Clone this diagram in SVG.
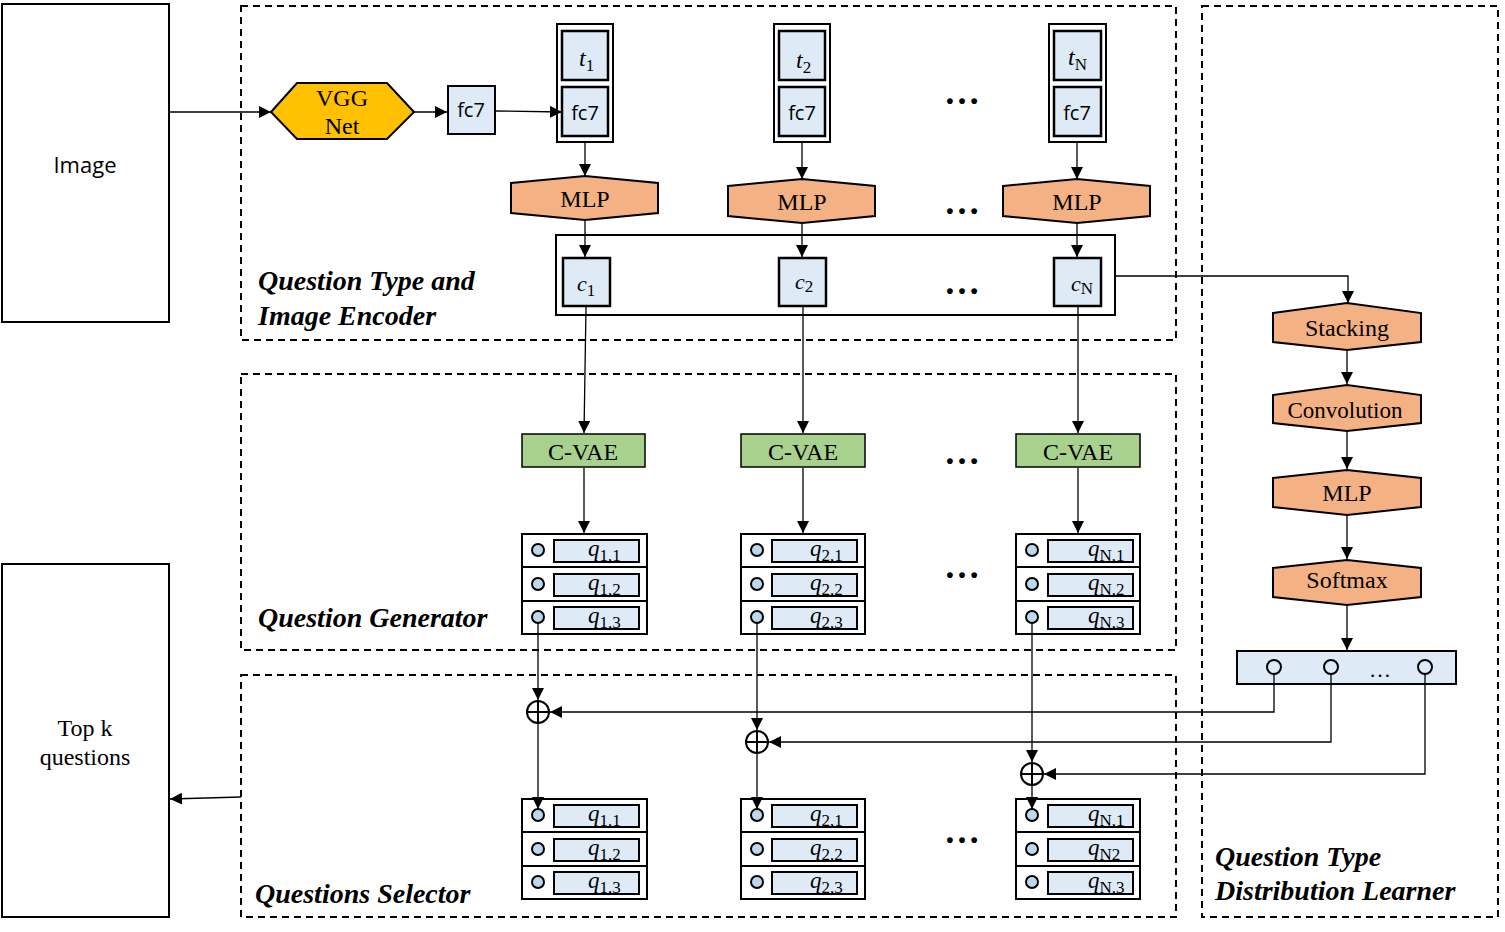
<svg xmlns="http://www.w3.org/2000/svg" width="1505" height="932" viewBox="0 0 1505 932">
<style>
.bg{fill:#fff}
.box{fill:#fff;stroke:#000;stroke-width:2}
.dash{fill:none;stroke:#000;stroke-width:2;stroke-dasharray:7,5}
.blue{fill:#DEEBF7;stroke:#000;stroke-width:2.5}
.blueb{fill:#DEEBF7;stroke:#000;stroke-width:2}
.orange{fill:#F4B183;stroke:#000;stroke-width:2}
.green{fill:#A9D18E;stroke:#000;stroke-width:1.5}
.gold{fill:#FFC000;stroke:#000;stroke-width:2}
.dot{fill:#BDD7EE;stroke:#000;stroke-width:2}
.line{fill:none;stroke:#000;stroke-width:1.3}
.sans{font-family:"Open Sans","Liberation Sans",sans-serif;fill:#000}
.serif{font-family:"Liberation Serif","DejaVu Serif",serif;fill:#000}
.lbl{font-family:"Liberation Serif",serif;font-weight:bold;font-style:italic;font-size:28px;fill:#000}
.math{font-family:"Liberation Serif","DejaVu Serif",serif;font-style:italic;fill:#000}
.sub{font-style:normal;font-size:17px}
.dots{font-family:"Liberation Serif",serif;font-weight:bold;font-size:36px;fill:#000}
</style>
<defs>
<marker id="ah" viewBox="0 0 10 10" refX="10" refY="5" markerWidth="12" markerHeight="12" markerUnits="userSpaceOnUse" orient="auto">
<path d="M0,0 L10,5 L0,10 z" fill="#000"/>
</marker>
</defs>
<rect class="bg" width="1505" height="932"/>

<!-- dashed containers -->
<g id="containers">
<rect class="dash" x="241" y="6" width="935" height="334"/>
<rect class="dash" x="241" y="374" width="935" height="276"/>
<rect class="dash" x="241" y="675" width="935" height="242"/>
<rect class="dash" x="1202" y="6" width="296" height="911"/>
<text class="lbl" x="258" y="290">Question Type and</text>
<text class="lbl" x="258" y="325">Image Encoder</text>
<text class="lbl" x="258" y="627">Question Generator</text>
<text class="lbl" x="255" y="903">Questions Selector</text>
<text class="lbl" x="1215" y="866">Question Type</text>
<text class="lbl" x="1215" y="900">Distribution Learner</text>
</g>

<g id="image">
<rect class="box" x="2" y="4" width="167" height="318"/>
<text class="sans" x="85" y="173" font-size="22" text-anchor="middle">Image</text>
</g>
<g id="topk">
<rect class="box" x="2" y="564" width="167" height="353"/>
<text class="serif" x="85" y="736" font-size="24" text-anchor="middle">Top k</text>
<text class="serif" x="85" y="765" font-size="24" text-anchor="middle">questions</text>
</g>

<g id="vgg">
<polygon class="gold" points="271,112 297,83 387,83 414,112 387,139 297,139"/>
<text class="serif" x="342" y="106" font-size="24" text-anchor="middle">VGG</text>
<text class="serif" x="342" y="134" font-size="24" text-anchor="middle">Net</text>
</g>
<g id="fc7">
<rect class="blueb" x="448" y="86" width="47" height="48"/>
<text class="sans" x="471" y="117" font-size="20" text-anchor="middle">fc7</text>
</g>

<g id="col1">
<rect class="box" x="557" y="24" width="56" height="118" stroke-width="2.5"/>
<rect class="blue" x="562" y="31" width="46" height="49"/>
<text class="math" x="579" y="66" font-size="24">t<tspan class="sub" dy="5">1</tspan></text>
<rect class="blue" x="562" y="87" width="46" height="49"/>
<text class="sans" x="585" y="120" font-size="20" text-anchor="middle">fc7</text>
</g>
<g id="col2">
<rect class="box" x="774" y="24" width="56" height="118" stroke-width="2.5"/>
<rect class="blue" x="779" y="31" width="46" height="49"/>
<text class="math" x="796" y="68" font-size="24">t<tspan class="sub" dy="5">2</tspan></text>
<rect class="blue" x="779" y="87" width="46" height="49"/>
<text class="sans" x="802" y="120" font-size="20" text-anchor="middle">fc7</text>
</g>
<g id="colN">
<rect class="box" x="1049" y="24" width="57" height="118" stroke-width="2.5"/>
<rect class="blue" x="1054" y="31" width="47" height="49"/>
<text class="math" x="1068" y="65" font-size="24">t<tspan class="sub" dy="5" font-style="italic">N</tspan></text>
<rect class="blue" x="1054" y="87" width="47" height="49"/>
<text class="sans" x="1077" y="120" font-size="20" text-anchor="middle">fc7</text>
</g>
<text class="dots" x="962" y="104" text-anchor="middle">…</text>

<g id="mlp1">
<polygon class="orange" points="511,183 585,176 658,183 658,213 585,220 511,213"/>
<text class="serif" x="585" y="207" font-size="24" text-anchor="middle">MLP</text>
</g>
<g id="mlp2">
<polygon class="orange" points="728,186 802,179 875,186 875,216 802,223 728,216"/>
<text class="serif" x="802" y="210" font-size="24" text-anchor="middle">MLP</text>
</g>
<g id="mlpN">
<polygon class="orange" points="1003,186 1077,179 1150,186 1150,216 1077,223 1003,216"/>
<text class="serif" x="1077" y="210" font-size="24" text-anchor="middle">MLP</text>
</g>
<text class="dots" x="962" y="214" text-anchor="middle">…</text>

<g id="cgroup">
<rect class="box" x="556" y="235" width="559" height="80"/>
<rect class="blue" x="563" y="258" width="47" height="48"/>
<text class="math" x="577" y="291" font-size="22">c<tspan class="sub" dy="5">1</tspan></text>
<rect class="blue" x="779" y="258" width="47" height="48"/>
<text class="math" x="795" y="289" font-size="22">c<tspan class="sub" dy="3">2</tspan></text>
<rect class="blue" x="1054" y="258" width="47" height="48"/>
<text class="math" x="1071" y="291" font-size="22">c<tspan class="sub" dy="3">N</tspan></text>
<text class="dots" x="962" y="294" text-anchor="middle">…</text>
</g>

<g id="cvae1"><rect class="green" x="522" y="434" width="123" height="33"/><text class="serif" x="583" y="460" font-size="24" text-anchor="middle">C-VAE</text></g>
<g id="cvae2"><rect class="green" x="741" y="434" width="124" height="33"/><text class="serif" x="803" y="460" font-size="24" text-anchor="middle">C-VAE</text></g>
<g id="cvaeN"><rect class="green" x="1016" y="434" width="124" height="33"/><text class="serif" x="1078" y="460" font-size="24" text-anchor="middle">C-VAE</text></g>
<text class="dots" x="962" y="464" text-anchor="middle">…</text>

<!-- generator stacks -->
<g id="gen1">
<rect class="box" x="522" y="534" width="125" height="33"/><rect class="box" x="522" y="567" width="125" height="34"/><rect class="box" x="522" y="601" width="125" height="33"/>
<circle class="dot" cx="538" cy="550" r="6"/><circle class="dot" cx="538" cy="584" r="6"/><circle class="dot" cx="538" cy="617" r="6"/>
<rect class="blueb" x="554" y="540" width="85" height="22"/><rect class="blueb" x="554" y="574" width="85" height="22"/><rect class="blueb" x="554" y="607" width="85" height="22"/>
<text class="math" x="588" y="556" font-size="23">q<tspan class="sub" dy="5">1,1</tspan></text>
<text class="math" x="588" y="590" font-size="23">q<tspan class="sub" dy="5">1,2</tspan></text>
<text class="math" x="588" y="623" font-size="23">q<tspan class="sub" dy="5">1,3</tspan></text>
</g>
<g id="gen2">
<rect class="box" x="741" y="534" width="124" height="33"/><rect class="box" x="741" y="567" width="124" height="34"/><rect class="box" x="741" y="601" width="124" height="33"/>
<circle class="dot" cx="757" cy="550" r="6"/><circle class="dot" cx="757" cy="584" r="6"/><circle class="dot" cx="757" cy="617" r="6"/>
<rect class="blueb" x="772" y="540" width="85" height="22"/><rect class="blueb" x="772" y="574" width="85" height="22"/><rect class="blueb" x="772" y="607" width="85" height="22"/>
<text class="math" x="810" y="556" font-size="23">q<tspan class="sub" dy="5">2,1</tspan></text>
<text class="math" x="810" y="590" font-size="23">q<tspan class="sub" dy="5">2,2</tspan></text>
<text class="math" x="810" y="623" font-size="23">q<tspan class="sub" dy="5">2,3</tspan></text>
</g>
<g id="genN">
<rect class="box" x="1016" y="534" width="124" height="33"/><rect class="box" x="1016" y="567" width="124" height="34"/><rect class="box" x="1016" y="601" width="124" height="33"/>
<circle class="dot" cx="1032" cy="550" r="6"/><circle class="dot" cx="1032" cy="584" r="6"/><circle class="dot" cx="1032" cy="617" r="6"/>
<rect class="blueb" x="1048" y="540" width="85" height="22"/><rect class="blueb" x="1048" y="574" width="85" height="22"/><rect class="blueb" x="1048" y="607" width="85" height="22"/>
<text class="math" x="1088" y="556" font-size="23">q<tspan class="sub" dy="5" font-style="italic">N</tspan><tspan class="sub">,1</tspan></text>
<text class="math" x="1088" y="590" font-size="23">q<tspan class="sub" dy="5">N,2</tspan></text>
<text class="math" x="1088" y="623" font-size="23">q<tspan class="sub" dy="5">N,3</tspan></text>
</g>
<text class="dots" x="962" y="578" text-anchor="middle">…</text>

<!-- plus nodes -->
<g id="plus1"><circle cx="538" cy="712" r="11" fill="#fff" stroke="#000" stroke-width="2"/><path d="M527,712 H549 M538,701 V723" stroke="#000" stroke-width="2"/></g>
<g id="plus2"><circle cx="757" cy="742" r="11" fill="#fff" stroke="#000" stroke-width="2"/><path d="M746,742 H768 M757,731 V753" stroke="#000" stroke-width="2"/></g>
<g id="plusN"><circle cx="1032" cy="774" r="11" fill="#fff" stroke="#000" stroke-width="2"/><path d="M1021,774 H1043 M1032,763 V785" stroke="#000" stroke-width="2"/></g>

<!-- selector stacks -->
<g id="sel1">
<rect class="box" x="522" y="799" width="125" height="33"/><rect class="box" x="522" y="832" width="125" height="34"/><rect class="box" x="522" y="866" width="125" height="33"/>
<circle class="dot" cx="538" cy="815" r="6"/><circle class="dot" cx="538" cy="849" r="6"/><circle class="dot" cx="538" cy="882" r="6"/>
<rect class="blueb" x="554" y="805" width="85" height="22"/><rect class="blueb" x="554" y="839" width="85" height="22"/><rect class="blueb" x="554" y="872" width="85" height="22"/>
<text class="math" x="588" y="821" font-size="23">q<tspan class="sub" dy="5">1,1</tspan></text>
<text class="math" x="588" y="855" font-size="23">q<tspan class="sub" dy="5">1,2</tspan></text>
<text class="math" x="588" y="888" font-size="23">q<tspan class="sub" dy="5">1,3</tspan></text>
</g>
<g id="sel2">
<rect class="box" x="741" y="799" width="124" height="33"/><rect class="box" x="741" y="832" width="124" height="34"/><rect class="box" x="741" y="866" width="124" height="33"/>
<circle class="dot" cx="757" cy="815" r="6"/><circle class="dot" cx="757" cy="849" r="6"/><circle class="dot" cx="757" cy="882" r="6"/>
<rect class="blueb" x="772" y="805" width="85" height="22"/><rect class="blueb" x="772" y="839" width="85" height="22"/><rect class="blueb" x="772" y="872" width="85" height="22"/>
<text class="math" x="810" y="821" font-size="23">q<tspan class="sub" dy="5">2,1</tspan></text>
<text class="math" x="810" y="855" font-size="23">q<tspan class="sub" dy="5">2,2</tspan></text>
<text class="math" x="810" y="888" font-size="23">q<tspan class="sub" dy="5">2,3</tspan></text>
</g>
<g id="selN">
<rect class="box" x="1016" y="799" width="124" height="33"/><rect class="box" x="1016" y="832" width="124" height="34"/><rect class="box" x="1016" y="866" width="124" height="33"/>
<circle class="dot" cx="1032" cy="815" r="6"/><circle class="dot" cx="1032" cy="849" r="6"/><circle class="dot" cx="1032" cy="882" r="6"/>
<rect class="blueb" x="1048" y="805" width="85" height="22"/><rect class="blueb" x="1048" y="839" width="85" height="22"/><rect class="blueb" x="1048" y="872" width="85" height="22"/>
<text class="math" x="1088" y="821" font-size="23">q<tspan class="sub" dy="5" font-style="italic">N</tspan><tspan class="sub">,1</tspan></text>
<text class="math" x="1088" y="855" font-size="23">q<tspan class="sub" dy="5" font-style="italic">N2</tspan></text>
<text class="math" x="1088" y="888" font-size="23">q<tspan class="sub" dy="5">N,3</tspan></text>
</g>
<text class="dots" x="962" y="843" text-anchor="middle">…</text>

<!-- right column -->
<g id="stacking"><polygon class="orange" points="1273,313 1347,303 1421,313 1421,342 1347,350 1273,342"/><text class="serif" x="1347" y="336" font-size="24" text-anchor="middle">Stacking</text></g>
<g id="convolution"><polygon class="orange" points="1273,395 1347,385 1421,395 1421,423 1347,431 1273,423"/><text class="serif" x="1345" y="418" font-size="23" text-anchor="middle">Convolution</text></g>
<g id="mlpR"><polygon class="orange" points="1273,478 1347,470 1421,478 1421,507 1347,515 1273,507"/><text class="serif" x="1347" y="501" font-size="24" text-anchor="middle">MLP</text></g>
<g id="softmax"><polygon class="orange" points="1273,568 1347,560 1421,568 1421,597 1347,605 1273,597"/><text class="serif" x="1347" y="588" font-size="24" text-anchor="middle">Softmax</text></g>
<g id="distribution">
<rect class="blueb" x="1237" y="651" width="219" height="33"/>
<circle cx="1274" cy="667" r="7" fill="#DEEBF7" stroke="#000" stroke-width="2"/>
<circle cx="1331" cy="667" r="7" fill="#DEEBF7" stroke="#000" stroke-width="2"/>
<circle cx="1425" cy="667" r="7" fill="#DEEBF7" stroke="#000" stroke-width="2"/>
<text class="serif" x="1380" y="677" font-size="22" text-anchor="middle">…</text>
</g>

<!-- connectors -->
<g id="connectors" class="line">
<line x1="169" y1="112" x2="271" y2="112" marker-end="url(#ah)"/>
<line x1="414" y1="112" x2="447" y2="112" marker-end="url(#ah)"/>
<line x1="495" y1="111" x2="562" y2="112" marker-end="url(#ah)"/>
<line x1="585" y1="143" x2="585" y2="176" marker-end="url(#ah)"/>
<line x1="802" y1="143" x2="802" y2="179" marker-end="url(#ah)"/>
<line x1="1077" y1="143" x2="1077" y2="179" marker-end="url(#ah)"/>
<line x1="585" y1="221" x2="585" y2="257" marker-end="url(#ah)"/>
<line x1="802" y1="224" x2="802" y2="257" marker-end="url(#ah)"/>
<line x1="1077" y1="224" x2="1077" y2="257" marker-end="url(#ah)"/>
<line x1="586" y1="307" x2="584" y2="433" marker-end="url(#ah)"/>
<line x1="803" y1="307" x2="803" y2="433" marker-end="url(#ah)"/>
<line x1="1078" y1="307" x2="1078" y2="433" marker-end="url(#ah)"/>
<line x1="584" y1="468" x2="584" y2="533" marker-end="url(#ah)"/>
<line x1="803" y1="468" x2="803" y2="533" marker-end="url(#ah)"/>
<line x1="1078" y1="468" x2="1078" y2="533" marker-end="url(#ah)"/>
<polyline points="1116,276 1348,276 1348,303" marker-end="url(#ah)"/>
<line x1="1347" y1="351" x2="1347" y2="384" marker-end="url(#ah)"/>
<line x1="1347" y1="432" x2="1347" y2="469" marker-end="url(#ah)"/>
<line x1="1347" y1="516" x2="1347" y2="559" marker-end="url(#ah)"/>
<line x1="1347" y1="606" x2="1347" y2="650" marker-end="url(#ah)"/>
<line x1="538" y1="623" x2="538" y2="700" marker-end="url(#ah)"/>
<line x1="757" y1="623" x2="757" y2="730" marker-end="url(#ah)"/>
<line x1="1032" y1="623" x2="1032" y2="762" marker-end="url(#ah)"/>
<line x1="538" y1="723" x2="538" y2="809" marker-end="url(#ah)"/>
<line x1="757" y1="753" x2="757" y2="809" marker-end="url(#ah)"/>
<line x1="1032" y1="785" x2="1032" y2="809" marker-end="url(#ah)"/>
<polyline points="1274,674 1274,712 550,712" marker-end="url(#ah)"/>
<polyline points="1331,674 1331,742 769,742" marker-end="url(#ah)"/>
<polyline points="1425,674 1425,774 1044,774" marker-end="url(#ah)"/>
<line x1="241" y1="797" x2="170" y2="799" marker-end="url(#ah)"/>
</g>
</svg>
